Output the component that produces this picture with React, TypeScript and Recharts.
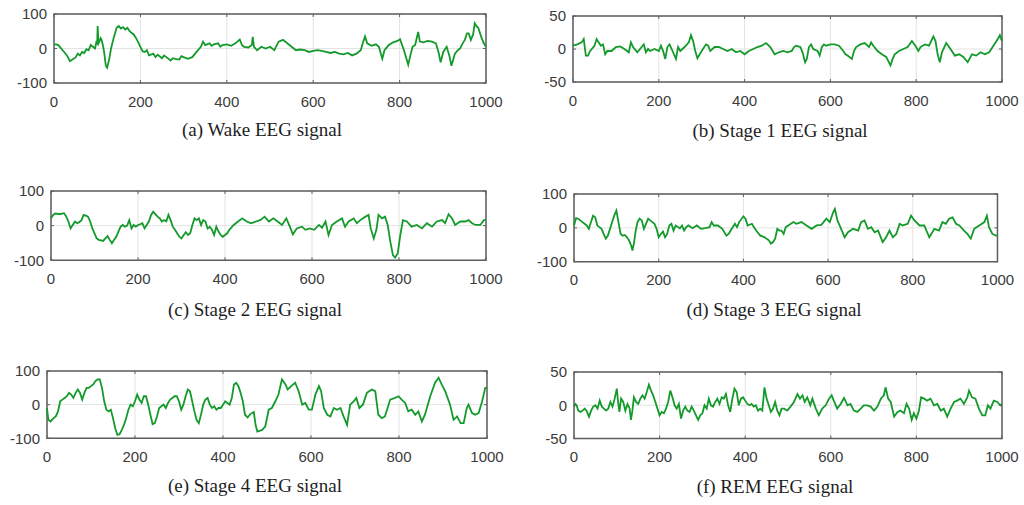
import { CartesianGrid, Line, LineChart, ReferenceArea, XAxis, YAxis } from 'recharts'

type Sample = [number, number]

const xTicks = [0, 200, 400, 600, 800, 1000]
const wideTicks = [-100, 0, 100]
const narrowTicks = [-50, 0, 50]

const wake: Sample[] = [
  [0, 12], [5, 12], [10, 10], [20, -5], [30, -20], [37, -37], [45, -30], [50, -26], [55, -15], [60, -20],
  [65, -10], [70, -13], [75, -2], [80, -5], [85, 10], [90, 5], [95, 0], [98, 18], [100, 15], [101, 65],
  [103, 15], [105, 20], [108, 30], [110, 25], [113, 10], [116, -10], [120, -50], [123, -56], [128, -30], [132, 0],
  [138, 30], [145, 60], [150, 65], [155, 58], [160, 62], [165, 55], [170, 60], [175, 50], [180, 45], [185, 40],
  [190, 30], [195, 18], [200, 5], [205, -8], [210, -10], [215, -5], [220, -20], [230, -15], [235, -25], [240, -18],
  [250, -28], [255, -20], [260, -25], [270, -35], [275, -28], [280, -30], [290, -32], [295, -22], [300, -25], [310, -30],
  [320, -25], [330, -10], [340, 5], [345, 20], [350, 10], [360, 15], [365, 8], [370, 12], [380, 15], [385, 5],
  [390, 10], [400, 12], [410, 8], [420, 15], [430, 26], [435, 10], [440, 5], [450, 3], [458, 10], [460, 34],
  [463, 5], [470, -5], [480, 5], [490, 0], [500, 5], [510, -5], [520, 20], [530, 25], [540, 15], [550, 5],
  [560, -5], [570, -3], [580, -5], [590, -10], [600, -7], [610, -5], [620, -7], [630, -10], [640, -13], [650, -10],
  [660, -15], [670, -17], [680, -13], [690, -20], [700, -15], [710, -5], [716, 20], [720, 35], [725, 15], [735, 8],
  [745, 12], [752, 5], [760, -30], [765, -5], [775, 10], [785, 18], [795, 22], [801, 27], [810, -5], [820, -47],
  [825, -20], [830, 5], [836, 10], [843, 48], [847, 20], [855, 18], [865, 22], [875, 20], [884, 15], [890, -10],
  [895, -40], [901, -10], [909, 5], [915, -20], [920, -50], [928, -15], [935, -5], [940, 0], [946, 15], [951, 25],
  [956, 44], [960, 44], [965, 25], [970, 40], [974, 73], [978, 65], [982, 60], [986, 45], [990, 30], [995, 15],
  [1000, 5],
]

const stage1: Sample[] = [
  [0, 5], [10, 7], [20, 10], [25, 15], [30, -10], [35, -10], [40, -3], [50, 5], [55, 15], [60, 10],
  [65, 5], [70, 7], [75, -8], [80, -3], [90, -3], [95, 0], [100, 3], [110, 4], [120, 0], [130, -5],
  [135, 10], [140, 3], [150, -5], [160, 3], [165, 7], [170, -5], [175, 0], [180, -3], [190, 0], [200, -3],
  [205, 5], [210, -3], [215, -15], [220, 3], [225, 7], [230, 0], [240, -15], [245, 3], [250, -3], [260, 3],
  [270, 10], [275, 21], [280, 12], [285, -3], [290, -14], [300, -3], [310, 7], [315, 5], [320, -3], [330, 3],
  [340, 3], [350, 0], [360, -3], [370, 0], [380, -5], [390, -3], [400, -8], [410, -3], [420, 0], [430, 3],
  [440, 5], [450, 9], [460, 3], [470, -8], [480, -5], [490, -3], [500, -5], [510, -3], [515, 3], [520, 5],
  [530, 3], [535, -5], [541, -20], [545, -15], [550, 3], [555, 7], [560, 0], [570, -3], [575, -10], [580, 3],
  [585, 7], [590, 5], [600, 7], [610, 7], [620, 5], [630, -3], [635, -8], [640, -10], [650, -15], [655, -3],
  [660, 3], [670, 7], [680, 9], [690, 3], [695, 10], [700, 5], [710, -3], [720, -8], [730, -12], [740, -25],
  [745, -15], [750, -8], [760, -3], [770, 0], [780, 3], [790, 12], [800, 3], [805, -3], [810, 3], [820, 7],
  [830, 5], [840, 19], [845, 12], [850, -8], [855, -20], [860, -5], [870, 9], [880, 0], [890, -10], [900, -8],
  [910, -12], [920, -20], [930, -8], [940, -10], [950, -5], [960, -8], [970, -5], [980, 5], [985, 10], [990, 15],
  [995, 21], [1000, 12],
]

const stage2: Sample[] = [
  [0, 21], [5, 31], [10, 35], [20, 33], [30, 36], [35, 26], [40, 12], [45, -8], [50, 2], [55, 12],
  [60, 7], [65, 10], [70, 16], [75, 31], [80, 29], [85, 26], [90, 12], [95, -8], [100, -22], [105, -37],
  [110, -41], [120, -44], [125, -37], [130, -30], [135, -41], [140, -51], [145, -41], [150, -32], [155, -17], [160, -3],
  [165, 2], [170, -3], [175, 0], [180, 16], [185, -8], [190, 2], [195, -3], [200, 2], [205, 4], [210, 7],
  [215, -8], [220, 2], [225, 12], [230, 31], [235, 40], [240, 33], [245, 26], [250, 21], [255, 12], [260, 16],
  [265, 12], [270, 31], [275, 16], [280, -3], [285, -12], [290, -22], [295, -32], [300, -37], [305, -27], [310, -19],
  [315, -27], [320, -22], [325, 2], [330, 21], [335, 16], [340, 21], [345, 2], [350, 16], [355, 12], [360, -8],
  [365, -3], [370, -12], [375, -27], [380, -3], [385, -17], [390, -27], [395, -32], [400, -27], [405, -22], [410, -12],
  [420, 2], [430, 12], [440, 21], [445, 16], [450, 12], [460, 7], [471, 12], [481, 16], [491, 26], [501, 12],
  [511, 21], [521, 12], [531, 2], [541, 21], [549, -3], [556, -25], [565, -8], [577, -3], [585, -12], [595, -8],
  [605, -12], [616, 2], [623, -6], [631, 12], [638, -27], [646, 2], [657, 12], [669, 21], [676, -3], [684, 12],
  [696, 21], [703, 7], [711, 16], [723, 26], [730, 31], [735, -8], [742, -37], [748, -12], [753, 31], [761, 21],
  [768, 26], [774, 2], [780, -46], [786, -85], [791, -92], [797, -80], [803, -27], [809, 16], [818, 12], [829, -3],
  [841, 2], [853, -8], [864, 7], [876, -3], [887, 12], [899, 16], [906, 7], [914, 33], [922, 21], [929, 2],
  [941, 12], [952, 12], [960, 16], [968, 7], [976, 2], [987, 2], [995, 16], [1000, 16],
]

const stage3: Sample[] = [
  [0, 7], [5, 29], [10, 27], [15, 22], [20, 17], [25, 12], [30, 7], [35, -3], [40, 17], [45, 36],
  [50, 31], [55, 7], [60, 2], [65, -3], [70, -18], [75, -32], [80, -23], [85, -3], [90, 17], [95, 36],
  [100, 51], [105, 17], [110, -18], [115, -23], [120, -21], [125, -28], [130, -37], [135, -52], [138, -67], [142, -42],
  [145, -13], [150, 17], [155, 27], [160, 22], [165, -3], [170, 12], [175, 27], [180, 22], [185, 17], [190, 12],
  [195, -3], [200, -28], [205, -18], [210, -11], [215, -28], [220, -18], [225, 7], [230, 12], [235, -8], [240, 7],
  [250, -1], [255, 7], [260, -8], [265, 2], [270, 7], [280, -1], [290, 7], [300, -3], [310, -1], [320, 2],
  [325, 17], [330, 7], [340, 7], [350, -3], [360, -23], [365, -18], [370, -8], [380, 12], [385, 2], [390, 17],
  [400, 34], [405, 27], [410, 7], [420, 12], [425, 2], [430, -8], [440, -23], [450, -28], [460, -37], [465, -47],
  [470, -42], [475, -32], [480, -3], [485, -8], [490, -8], [495, -18], [500, 2], [506, 7], [518, 17], [525, 12],
  [537, 17], [549, 7], [561, -3], [573, 7], [584, 9], [596, 27], [604, 17], [612, 46], [616, 56], [622, 22],
  [629, 2], [639, -28], [647, -13], [659, -3], [671, -8], [678, 17], [686, 22], [694, -3], [702, 2], [710, -13],
  [718, -8], [729, -42], [737, -28], [745, -8], [753, -28], [761, -18], [769, 12], [776, 7], [788, 12], [796, 36],
  [804, 22], [816, 7], [827, 7], [839, -28], [851, -3], [862, -8], [870, 17], [878, 12], [886, 27], [894, 31],
  [902, 12], [910, 7], [921, -8], [929, -18], [937, -32], [945, -3], [957, 7], [969, 17], [975, 36], [980, 2],
  [988, -18], [996, -23], [1000, -23],
]

const stage4: Sample[] = [
  [0, -10], [3, -45], [8, -50], [15, -40], [20, -35], [25, -20], [30, 10], [35, 15], [40, 20], [45, 25],
  [50, 35], [55, 30], [60, 20], [65, 35], [70, 45], [75, 35], [80, 15], [85, 35], [90, 50], [95, 50],
  [100, 55], [105, 60], [110, 70], [115, 75], [120, 75], [125, 50], [130, 10], [135, -15], [140, -20], [145, -15],
  [150, -40], [155, -70], [160, -90], [165, -88], [170, -75], [175, -60], [180, -40], [185, -15], [190, 0], [195, -5],
  [200, 10], [205, 30], [210, 15], [215, 5], [220, 25], [225, 25], [230, 0], [235, -30], [240, -58], [245, -55],
  [250, -35], [255, -10], [260, -5], [265, 0], [270, -10], [275, 5], [280, 15], [285, 20], [290, 25], [295, 25],
  [300, 10], [305, -15], [310, 0], [315, 25], [320, 45], [325, 40], [330, 10], [335, -20], [340, -45], [345, -55],
  [350, -30], [355, 0], [360, 15], [365, 20], [370, 0], [375, -10], [380, -5], [385, -15], [390, -10], [395, -10],
  [400, 0], [405, 10], [410, 5], [415, 0], [420, 20], [425, 60], [430, 65], [435, 55], [440, 35], [445, 10],
  [450, -30], [456, -38], [462, -28], [470, -22], [474, -60], [478, -80], [489, -75], [496, -65], [504, -15], [511, -10],
  [519, 10], [526, 30], [534, 75], [542, 60], [547, 45], [555, 55], [564, 65], [572, 40], [580, 0], [587, 5],
  [595, -15], [602, -15], [610, 30], [618, 55], [623, 40], [629, -10], [637, -30], [644, -35], [652, -10], [659, -15],
  [667, -10], [674, -35], [682, -60], [689, 0], [697, 10], [703, 20], [710, -10], [718, 0], [727, 35], [738, 45],
  [746, 40], [753, -30], [761, -40], [768, -35], [780, 15], [791, 20], [799, 25], [806, 15], [814, 5], [821, -20],
  [829, -15], [837, -30], [844, -20], [852, -50], [859, -30], [871, 25], [882, 65], [890, 80], [897, 60], [905, 40],
  [916, 0], [924, -45], [932, -35], [940, -55], [947, -55], [954, -10], [958, 0], [966, -25], [973, -30], [981, -25],
  [989, 10], [996, 50], [1000, 50],
]

const rem: Sample[] = [
  [0, -2], [3, 2], [6, 0], [10, -8], [15, -10], [20, -8], [25, -5], [30, -9], [35, -17], [40, -8],
  [45, -2], [50, 0], [55, -5], [60, 7], [65, -2], [70, -5], [75, -8], [80, -5], [85, 5], [90, -2],
  [95, 10], [100, 25], [103, 5], [106, -10], [110, 10], [115, 5], [120, -8], [125, 2], [130, -5], [133, -22],
  [136, -10], [140, 12], [145, 5], [150, 2], [155, 10], [160, 15], [165, 10], [170, 20], [175, 31], [180, 22],
  [185, 15], [190, 5], [195, -5], [200, -15], [205, -10], [210, -12], [215, -5], [220, 5], [225, 22], [230, 12],
  [235, 0], [240, -5], [245, 2], [250, -20], [255, -8], [260, -2], [265, -8], [270, -10], [275, -2], [280, -8],
  [285, -15], [290, -22], [295, -15], [300, -12], [305, 0], [310, -5], [315, 10], [320, 0], [325, -2], [330, 5],
  [335, 10], [340, 2], [345, 12], [350, 10], [355, 17], [360, 0], [365, -10], [370, 10], [375, 25], [380, 20],
  [385, 0], [390, 10], [395, 12], [400, 7], [405, 2], [410, 0], [415, 2], [420, -2], [425, 0], [430, -8],
  [435, -5], [440, -8], [445, 27], [450, 10], [455, 0], [460, -10], [465, -5], [470, 5], [475, -8], [480, -15],
  [485, -5], [491, -5], [498, -8], [506, -2], [514, 5], [522, 17], [528, 10], [534, 15], [539, 5], [545, 12],
  [552, 0], [557, 10], [565, -5], [572, -15], [580, -5], [588, 0], [596, 10], [602, 15], [607, 7], [615, -5],
  [623, 2], [631, 11], [639, 0], [646, 2], [654, -8], [662, -10], [670, -5], [677, 0], [685, 0], [693, -2],
  [701, -8], [709, -2], [717, 10], [724, 15], [728, 27], [734, 10], [740, 5], [748, -17], [756, -10], [763, -8],
  [771, -12], [777, 2], [783, -5], [789, -22], [794, -12], [800, -20], [806, -8], [811, 12], [818, 10], [825, 7],
  [833, 10], [841, 0], [849, 2], [857, -8], [864, -5], [872, -17], [880, -5], [888, 5], [895, 7], [903, 10],
  [911, 2], [919, 12], [923, 22], [930, 12], [938, 10], [946, -5], [954, -15], [961, -15], [967, 0], [973, -5],
  [981, 7], [989, 5], [996, 0], [1000, 2],
]

const GREEN = '#139a2b'
const FRAME = '#5e5e5e'
const TICK_TEXT = '#3b3b3b'
const GRID = '#e3e3e3'
const Y_AXIS_W = 50
const X_AXIS_H = 30
const PAD = 10
const PAD_RIGHT = 30
const X_GAP = 13
const Y_GAP = 7
const MARK = 3
const tickFont = '"Liberation Sans", Arial, sans-serif'

const XTick = (props: any) => {
  const { x, y, payload, plotHeight } = props
  const base = y - X_GAP
  return (
    <g>
      <line x1={x} x2={x} y1={base} y2={base - MARK} stroke={FRAME} />
      <line x1={x} x2={x} y1={base - plotHeight} y2={base - plotHeight + MARK} stroke={FRAME} />
      <text x={x} y={y} dy="0.71em" textAnchor="middle" fill={TICK_TEXT} fontSize={15} fontFamily={tickFont}>
        {payload.value}
      </text>
    </g>
  )
}

const YTick = (props: any) => {
  const { x, y, payload, plotWidth } = props
  const base = x + Y_GAP
  return (
    <g>
      <line x1={base} x2={base + MARK} y1={y} y2={y} stroke={FRAME} />
      <line x1={base + plotWidth} x2={base + plotWidth - MARK} y1={y} y2={y} stroke={FRAME} />
      <text x={x} y={y} dy="0.355em" textAnchor="end" fill={TICK_TEXT} fontSize={15} fontFamily={tickFont}>
        {payload.value}
      </text>
    </g>
  )
}

interface PanelProps {
  data: Sample[]
  yTicks: number[]
  left: number
  top: number
  width: number
  height: number
}

const Panel = ({ data, yTicks, left, top, width, height }: PanelProps) => {
  const rows = data.map(([x, y]) => ({ x, y }))
  const yMax = yTicks[yTicks.length - 1]

  return (
    <div style={{ position: 'absolute', left: left - Y_AXIS_W, top: top - PAD }}>
      <LineChart
        width={Y_AXIS_W + width + PAD_RIGHT}
        height={PAD + height + X_AXIS_H}
        data={rows}
        margin={{ top: PAD, right: PAD_RIGHT, bottom: 0, left: 0 }}
      >
        <CartesianGrid stroke={GRID} />
        <XAxis
          type="number"
          dataKey="x"
          domain={[0, 1000]}
          ticks={xTicks}
          interval={0}
          height={X_AXIS_H}
          axisLine={false}
          tickLine={false}
          tickSize={0}
          tickMargin={X_GAP}
          tick={(p: any) => <XTick {...p} plotHeight={height} />}
        />
        <YAxis
          type="number"
          domain={[-yMax, yMax]}
          ticks={yTicks}
          interval={0}
          width={Y_AXIS_W}
          axisLine={false}
          tickLine={false}
          tickSize={0}
          tickMargin={Y_GAP}
          tick={(p: any) => <YTick {...p} plotWidth={width} />}
        />
        <Line
          type="linear"
          dataKey="y"
          stroke={GREEN}
          strokeWidth={1.8}
          dot={false}
          isAnimationActive={false}
        />
        <ReferenceArea x1={0} x2={1000} y1={-yMax} y2={yMax} fill="none" stroke={FRAME} strokeWidth={1.5} />
      </LineChart>
    </div>
  )
}

const captions = [
  { text: '(a) Wake EEG signal', x: 262, y: 136 },
  { text: '(b) Stage 1 EEG signal', x: 780, y: 137 },
  { text: '(c) Stage 2 EEG signal', x: 255, y: 316 },
  { text: '(d) Stage 3 EEG signal', x: 774, y: 316 },
  { text: '(e) Stage 4 EEG signal', x: 255, y: 492 },
  { text: '(f) REM EEG signal', x: 775, y: 493 },
]

export default function App() {
  return (
    <div style={{ position: 'absolute', left: 0, top: 0, width: 1024, height: 505, background: '#fff', overflow: 'hidden' }}>
      <Panel data={wake} yTicks={wideTicks} left={54} top={14} width={432} height={69} />
      <Panel data={stage1} yTicks={narrowTicks} left={572.5} top={15.7} width={429} height={66} />
      <Panel data={stage2} yTicks={wideTicks} left={50.7} top={190.7} width={435} height={69.3} />
      <Panel data={stage3} yTicks={wideTicks} left={574} top={194} width={423.5} height={67.7} />
      <Panel data={stage4} yTicks={wideTicks} left={46.7} top={371} width={440} height={67.3} />
      <Panel data={rem} yTicks={narrowTicks} left={574} top={371.7} width={428} height={66.6} />
      <svg
        width={1024}
        height={505}
        style={{ position: 'absolute', left: 0, top: 0, pointerEvents: 'none' }}
      >
        {captions.map((c) => (
          <text
            key={c.text}
            x={c.x}
            y={c.y}
            textAnchor="middle"
            fontSize={19}
            fill="#1e1e1e"
            fontFamily='"Liberation Serif", "Times New Roman", serif'
          >
            {c.text}
          </text>
        ))}
      </svg>
    </div>
  )
}
